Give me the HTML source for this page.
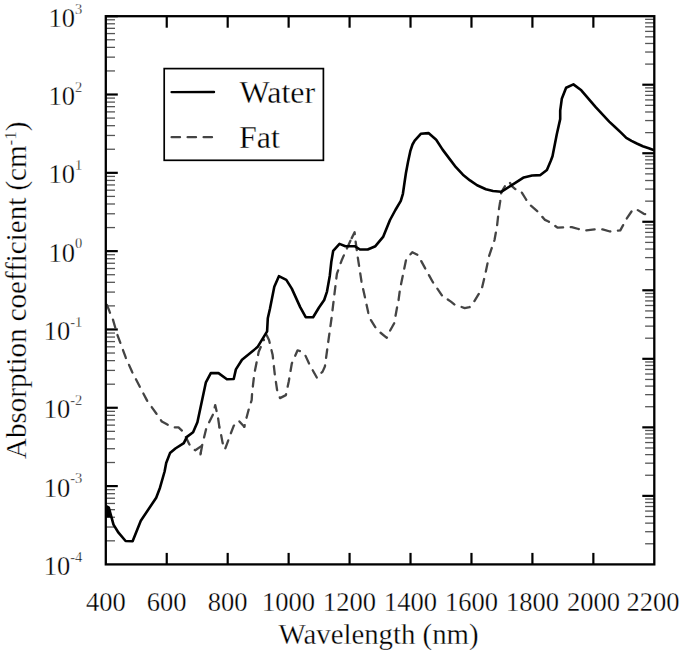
<!DOCTYPE html>
<html><head><meta charset="utf-8"><style>
html,body{margin:0;padding:0;background:#fff;}
svg{display:block;}
text{font-family:"Liberation Serif",serif;fill:#000;font-variant-ligatures:none;stroke:#fff;stroke-width:0.3px;}
.tk{font-size:26.5px;}
.sup{font-size:14.5px;}
.mj{stroke:#000;stroke-width:2.2;}
.mn{stroke:#555;stroke-width:1.3;}
</style></head><body>
<svg width="680" height="650" viewBox="0 0 680 650">
<rect x="0" y="0" width="680" height="650" fill="#fff"/>
<line x1="105.8" y1="16.20" x2="117.8" y2="16.20" class="mj"/><line x1="105.8" y1="70.94" x2="115.0" y2="70.94" class="mn"/><line x1="105.8" y1="57.15" x2="115.0" y2="57.15" class="mn"/><line x1="105.8" y1="47.36" x2="115.0" y2="47.36" class="mn"/><line x1="105.8" y1="39.77" x2="115.0" y2="39.77" class="mn"/><line x1="105.8" y1="33.57" x2="115.0" y2="33.57" class="mn"/><line x1="105.8" y1="28.33" x2="115.0" y2="28.33" class="mn"/><line x1="105.8" y1="23.79" x2="115.0" y2="23.79" class="mn"/><line x1="105.8" y1="19.78" x2="115.0" y2="19.78" class="mn"/><line x1="105.8" y1="94.51" x2="117.8" y2="94.51" class="mj"/><line x1="105.8" y1="149.25" x2="115.0" y2="149.25" class="mn"/><line x1="105.8" y1="135.46" x2="115.0" y2="135.46" class="mn"/><line x1="105.8" y1="125.68" x2="115.0" y2="125.68" class="mn"/><line x1="105.8" y1="118.09" x2="115.0" y2="118.09" class="mn"/><line x1="105.8" y1="111.89" x2="115.0" y2="111.89" class="mn"/><line x1="105.8" y1="106.65" x2="115.0" y2="106.65" class="mn"/><line x1="105.8" y1="102.10" x2="115.0" y2="102.10" class="mn"/><line x1="105.8" y1="98.10" x2="115.0" y2="98.10" class="mn"/><line x1="105.8" y1="172.83" x2="117.8" y2="172.83" class="mj"/><line x1="105.8" y1="227.57" x2="115.0" y2="227.57" class="mn"/><line x1="105.8" y1="213.78" x2="115.0" y2="213.78" class="mn"/><line x1="105.8" y1="203.99" x2="115.0" y2="203.99" class="mn"/><line x1="105.8" y1="196.40" x2="115.0" y2="196.40" class="mn"/><line x1="105.8" y1="190.20" x2="115.0" y2="190.20" class="mn"/><line x1="105.8" y1="184.96" x2="115.0" y2="184.96" class="mn"/><line x1="105.8" y1="180.42" x2="115.0" y2="180.42" class="mn"/><line x1="105.8" y1="176.41" x2="115.0" y2="176.41" class="mn"/><line x1="105.8" y1="251.14" x2="117.8" y2="251.14" class="mj"/><line x1="105.8" y1="305.88" x2="115.0" y2="305.88" class="mn"/><line x1="105.8" y1="292.09" x2="115.0" y2="292.09" class="mn"/><line x1="105.8" y1="282.31" x2="115.0" y2="282.31" class="mn"/><line x1="105.8" y1="274.72" x2="115.0" y2="274.72" class="mn"/><line x1="105.8" y1="268.52" x2="115.0" y2="268.52" class="mn"/><line x1="105.8" y1="263.27" x2="115.0" y2="263.27" class="mn"/><line x1="105.8" y1="258.73" x2="115.0" y2="258.73" class="mn"/><line x1="105.8" y1="254.73" x2="115.0" y2="254.73" class="mn"/><line x1="105.8" y1="329.46" x2="117.8" y2="329.46" class="mj"/><line x1="105.8" y1="384.20" x2="115.0" y2="384.20" class="mn"/><line x1="105.8" y1="370.41" x2="115.0" y2="370.41" class="mn"/><line x1="105.8" y1="360.62" x2="115.0" y2="360.62" class="mn"/><line x1="105.8" y1="353.03" x2="115.0" y2="353.03" class="mn"/><line x1="105.8" y1="346.83" x2="115.0" y2="346.83" class="mn"/><line x1="105.8" y1="341.59" x2="115.0" y2="341.59" class="mn"/><line x1="105.8" y1="337.05" x2="115.0" y2="337.05" class="mn"/><line x1="105.8" y1="333.04" x2="115.0" y2="333.04" class="mn"/><line x1="105.8" y1="407.77" x2="117.8" y2="407.77" class="mj"/><line x1="105.8" y1="462.51" x2="115.0" y2="462.51" class="mn"/><line x1="105.8" y1="448.72" x2="115.0" y2="448.72" class="mn"/><line x1="105.8" y1="438.94" x2="115.0" y2="438.94" class="mn"/><line x1="105.8" y1="431.35" x2="115.0" y2="431.35" class="mn"/><line x1="105.8" y1="425.15" x2="115.0" y2="425.15" class="mn"/><line x1="105.8" y1="419.90" x2="115.0" y2="419.90" class="mn"/><line x1="105.8" y1="415.36" x2="115.0" y2="415.36" class="mn"/><line x1="105.8" y1="411.35" x2="115.0" y2="411.35" class="mn"/><line x1="105.8" y1="486.09" x2="117.8" y2="486.09" class="mj"/><line x1="105.8" y1="540.83" x2="115.0" y2="540.83" class="mn"/><line x1="105.8" y1="527.03" x2="115.0" y2="527.03" class="mn"/><line x1="105.8" y1="517.25" x2="115.0" y2="517.25" class="mn"/><line x1="105.8" y1="509.66" x2="115.0" y2="509.66" class="mn"/><line x1="105.8" y1="503.46" x2="115.0" y2="503.46" class="mn"/><line x1="105.8" y1="498.22" x2="115.0" y2="498.22" class="mn"/><line x1="105.8" y1="493.68" x2="115.0" y2="493.68" class="mn"/><line x1="105.8" y1="489.67" x2="115.0" y2="489.67" class="mn"/><line x1="645.0999999999999" y1="64.10" x2="654.3" y2="64.10" class="mn"/><line x1="645.0999999999999" y1="52.03" x2="654.3" y2="52.03" class="mn"/><line x1="645.0999999999999" y1="43.47" x2="654.3" y2="43.47" class="mn"/><line x1="645.0999999999999" y1="36.83" x2="654.3" y2="36.83" class="mn"/><line x1="645.0999999999999" y1="31.40" x2="654.3" y2="31.40" class="mn"/><line x1="645.0999999999999" y1="26.81" x2="654.3" y2="26.81" class="mn"/><line x1="645.0999999999999" y1="22.84" x2="654.3" y2="22.84" class="mn"/><line x1="645.0999999999999" y1="19.34" x2="654.3" y2="19.34" class="mn"/><line x1="642.3" y1="84.72" x2="654.3" y2="84.72" class="mj"/><line x1="645.0999999999999" y1="132.62" x2="654.3" y2="132.62" class="mn"/><line x1="645.0999999999999" y1="120.56" x2="654.3" y2="120.56" class="mn"/><line x1="645.0999999999999" y1="111.99" x2="654.3" y2="111.99" class="mn"/><line x1="645.0999999999999" y1="105.35" x2="654.3" y2="105.35" class="mn"/><line x1="645.0999999999999" y1="99.93" x2="654.3" y2="99.93" class="mn"/><line x1="645.0999999999999" y1="95.34" x2="654.3" y2="95.34" class="mn"/><line x1="645.0999999999999" y1="91.37" x2="654.3" y2="91.37" class="mn"/><line x1="645.0999999999999" y1="87.86" x2="654.3" y2="87.86" class="mn"/><line x1="642.3" y1="153.25" x2="654.3" y2="153.25" class="mj"/><line x1="645.0999999999999" y1="201.15" x2="654.3" y2="201.15" class="mn"/><line x1="645.0999999999999" y1="189.08" x2="654.3" y2="189.08" class="mn"/><line x1="645.0999999999999" y1="180.52" x2="654.3" y2="180.52" class="mn"/><line x1="645.0999999999999" y1="173.88" x2="654.3" y2="173.88" class="mn"/><line x1="645.0999999999999" y1="168.45" x2="654.3" y2="168.45" class="mn"/><line x1="645.0999999999999" y1="163.86" x2="654.3" y2="163.86" class="mn"/><line x1="645.0999999999999" y1="159.89" x2="654.3" y2="159.89" class="mn"/><line x1="645.0999999999999" y1="156.39" x2="654.3" y2="156.39" class="mn"/><line x1="642.3" y1="221.77" x2="654.3" y2="221.77" class="mj"/><line x1="645.0999999999999" y1="269.67" x2="654.3" y2="269.67" class="mn"/><line x1="645.0999999999999" y1="257.61" x2="654.3" y2="257.61" class="mn"/><line x1="645.0999999999999" y1="249.04" x2="654.3" y2="249.04" class="mn"/><line x1="645.0999999999999" y1="242.40" x2="654.3" y2="242.40" class="mn"/><line x1="645.0999999999999" y1="236.98" x2="654.3" y2="236.98" class="mn"/><line x1="645.0999999999999" y1="232.39" x2="654.3" y2="232.39" class="mn"/><line x1="645.0999999999999" y1="228.42" x2="654.3" y2="228.42" class="mn"/><line x1="645.0999999999999" y1="224.91" x2="654.3" y2="224.91" class="mn"/><line x1="642.3" y1="290.30" x2="654.3" y2="290.30" class="mj"/><line x1="645.0999999999999" y1="338.20" x2="654.3" y2="338.20" class="mn"/><line x1="645.0999999999999" y1="326.13" x2="654.3" y2="326.13" class="mn"/><line x1="645.0999999999999" y1="317.57" x2="654.3" y2="317.57" class="mn"/><line x1="645.0999999999999" y1="310.93" x2="654.3" y2="310.93" class="mn"/><line x1="645.0999999999999" y1="305.50" x2="654.3" y2="305.50" class="mn"/><line x1="645.0999999999999" y1="300.91" x2="654.3" y2="300.91" class="mn"/><line x1="645.0999999999999" y1="296.94" x2="654.3" y2="296.94" class="mn"/><line x1="645.0999999999999" y1="293.44" x2="654.3" y2="293.44" class="mn"/><line x1="642.3" y1="358.82" x2="654.3" y2="358.82" class="mj"/><line x1="645.0999999999999" y1="406.72" x2="654.3" y2="406.72" class="mn"/><line x1="645.0999999999999" y1="394.66" x2="654.3" y2="394.66" class="mn"/><line x1="645.0999999999999" y1="386.09" x2="654.3" y2="386.09" class="mn"/><line x1="645.0999999999999" y1="379.45" x2="654.3" y2="379.45" class="mn"/><line x1="645.0999999999999" y1="374.03" x2="654.3" y2="374.03" class="mn"/><line x1="645.0999999999999" y1="369.44" x2="654.3" y2="369.44" class="mn"/><line x1="645.0999999999999" y1="365.47" x2="654.3" y2="365.47" class="mn"/><line x1="645.0999999999999" y1="361.96" x2="654.3" y2="361.96" class="mn"/><line x1="642.3" y1="427.35" x2="654.3" y2="427.35" class="mj"/><line x1="645.0999999999999" y1="475.25" x2="654.3" y2="475.25" class="mn"/><line x1="645.0999999999999" y1="463.18" x2="654.3" y2="463.18" class="mn"/><line x1="645.0999999999999" y1="454.62" x2="654.3" y2="454.62" class="mn"/><line x1="645.0999999999999" y1="447.98" x2="654.3" y2="447.98" class="mn"/><line x1="645.0999999999999" y1="442.55" x2="654.3" y2="442.55" class="mn"/><line x1="645.0999999999999" y1="437.96" x2="654.3" y2="437.96" class="mn"/><line x1="645.0999999999999" y1="433.99" x2="654.3" y2="433.99" class="mn"/><line x1="645.0999999999999" y1="430.49" x2="654.3" y2="430.49" class="mn"/><line x1="642.3" y1="495.87" x2="654.3" y2="495.87" class="mj"/><line x1="645.0999999999999" y1="543.77" x2="654.3" y2="543.77" class="mn"/><line x1="645.0999999999999" y1="531.71" x2="654.3" y2="531.71" class="mn"/><line x1="645.0999999999999" y1="523.14" x2="654.3" y2="523.14" class="mn"/><line x1="645.0999999999999" y1="516.50" x2="654.3" y2="516.50" class="mn"/><line x1="645.0999999999999" y1="511.08" x2="654.3" y2="511.08" class="mn"/><line x1="645.0999999999999" y1="506.49" x2="654.3" y2="506.49" class="mn"/><line x1="645.0999999999999" y1="502.52" x2="654.3" y2="502.52" class="mn"/><line x1="645.0999999999999" y1="499.01" x2="654.3" y2="499.01" class="mn"/><line x1="166.74" y1="564.4" x2="166.74" y2="552.9" class="mj"/><line x1="166.74" y1="16.2" x2="166.74" y2="27.7" class="mj"/><line x1="227.69" y1="564.4" x2="227.69" y2="552.9" class="mj"/><line x1="227.69" y1="16.2" x2="227.69" y2="27.7" class="mj"/><line x1="288.63" y1="564.4" x2="288.63" y2="552.9" class="mj"/><line x1="288.63" y1="16.2" x2="288.63" y2="27.7" class="mj"/><line x1="349.58" y1="564.4" x2="349.58" y2="552.9" class="mj"/><line x1="349.58" y1="16.2" x2="349.58" y2="27.7" class="mj"/><line x1="410.52" y1="564.4" x2="410.52" y2="552.9" class="mj"/><line x1="410.52" y1="16.2" x2="410.52" y2="27.7" class="mj"/><line x1="471.47" y1="564.4" x2="471.47" y2="552.9" class="mj"/><line x1="471.47" y1="16.2" x2="471.47" y2="27.7" class="mj"/><line x1="532.41" y1="564.4" x2="532.41" y2="552.9" class="mj"/><line x1="532.41" y1="16.2" x2="532.41" y2="27.7" class="mj"/><line x1="593.36" y1="564.4" x2="593.36" y2="552.9" class="mj"/><line x1="593.36" y1="16.2" x2="593.36" y2="27.7" class="mj"/>
<path d="M106.2,302.9 L109.8,312.2 L112.9,319.5 L117.2,334.3 L125.8,357.7 L132.3,372.3 L139.7,386.5 L147.1,400.6 L156.3,413.5 L161.8,421.5 L167.4,424.6 L173.5,427.4 L178.5,427.4 L182.2,430.8 L185.5,436.5 L189.3,444.3 L193.5,449.4 L195.3,450.3 L202.1,445.6 L200.5,454.4" fill="none" stroke="#444" stroke-width="2.3" stroke-linecap="round" stroke-linejoin="round" stroke-dasharray="8.4 7.6" stroke-dashoffset="13.90"/><path d="M200.5,454.4 L202.1,445.6 L203.7,438.8 L206.0,429.5 L208.3,424.0 L212.9,414.8 L215.2,405.1 L216.6,411.1 L218.0,417.5 L219.4,427.2" fill="none" stroke="#444" stroke-width="2.3" stroke-linecap="round" stroke-linejoin="round" stroke-dasharray="8.4 7.6" stroke-dashoffset="14.65"/><path d="M219.4,427.2 L220.8,433.2 L222.6,442.9 L224.9,449.4 L228.2,440.6 L230.5,434.2 L233.7,425.9 L238.8,420.8 L244.3,426.8" fill="none" stroke="#444" stroke-width="2.3" stroke-linecap="round" stroke-linejoin="round" stroke-dasharray="8.4 7.6" stroke-dashoffset="7.89"/><path d="M244.3,426.8 L246.2,418.9 L248.5,410.2 L251.7,400.0 L252.1,392.9 L254.3,373.8 L258.7,351.8 L263.8,340.0" fill="none" stroke="#444" stroke-width="2.3" stroke-linecap="round" stroke-linejoin="round" stroke-dasharray="8.4 7.6" stroke-dashoffset="6.65"/><path d="M263.8,340.0 L266.0,333.8 L269.0,340.0 L272.6,354.7 L274.9,375.3 L277.1,390.0 L280.0,398.1 L285.9,395.1 L288.8,381.2 L291.8,363.5 L297.6,350.3 L299.9,351.0 L305.0,354.7 L309.4,364.3 L316.8,377.5" fill="none" stroke="#444" stroke-width="2.3" stroke-linecap="round" stroke-linejoin="round" stroke-dasharray="8.4 7.6" stroke-dashoffset="8.00"/><path d="M316.8,377.5 L322.6,371.6 L324.9,366.5 L328.5,340.0 L331.5,318.5 L335.4,286.2 L336.9,273.8 L341.5,260.8 L346.2,250.0 L350.8,240.0" fill="none" stroke="#444" stroke-width="2.3" stroke-linecap="round" stroke-linejoin="round" stroke-dasharray="8.4 7.6" stroke-dashoffset="9.38"/><path d="M350.8,240.0 L354.6,232.3 L355.4,240.0 L357.7,256.9 L361.5,281.5 L366.2,303.1 L368.3,312.8 L370.2,318.9 L375.1,326.9 L379.4,331.8 L386.8,337.8 L389.8,331.2 L394.2,323.2 L395.4,316.5 L397.2,306.6 L398.5,300.5 L400.0,289.2 L406.2,259.2 L412.3,252.3 L418.5,255.4 L421.1,260.8 L425.2,268.4 L432.9,282.2 L441.9,295.4" fill="none" stroke="#444" stroke-width="2.3" stroke-linecap="round" stroke-linejoin="round" stroke-dasharray="8.4 7.6" stroke-dashoffset="13.90"/><path d="M441.9,295.4 L450.9,301.6 L454.3,304.4 L464.7,308.1 L469.6,307.2 L473.7,302.3 L479.2,293.3 L482.0,287.8 L485.5,273.2 L488.9,256.6 L494.5,240.0 L497.0,226.3 L498.8,210.2 L500.2,201.4 L501.2,192.6" fill="none" stroke="#444" stroke-width="2.3" stroke-linecap="round" stroke-linejoin="round" stroke-dasharray="8.4 7.6" stroke-dashoffset="8.89"/><path d="M501.2,192.6 L503.5,188.5 L506.7,183.4 L509.5,182.0 L511.8,186.2 L515.0,188.9 L521.0,191.2 L526.1,199.5 L530.2,205.1 L537.2,211.1 L545.0,219.9 L548.5,221.5 L557.7,227.7 L571.8,227.1 L578.4,229.0 L585.7,230.4 L594.6,229.4 L602.6,229.4 L610.0,231.5 L620.3,230.4 L626.2,219.4 L632.1,210.6 L635.7,208.8 L643.8,213.8 L652.6,215.3" fill="none" stroke="#444" stroke-width="2.3" stroke-linecap="round" stroke-linejoin="round" stroke-dasharray="8.4 7.6" stroke-dashoffset="1.12"/>
<polygon points="106,505.5 109.5,507.5 112,517.5 106,517.5" fill="#000"/><path d="M106.2,506.2 L108.8,507.7 L111.5,517.3 L113.5,524.6 L118.5,532.7 L125.6,541.0 L132.6,541.3 L140.8,520.8 L156.2,497.7 L160.0,487.7 L164.6,471.5 L166.2,463.0 L170.0,453.1 L175.4,448.5 L183.8,443.1 L186.9,436.9 L193.1,432.3 L197.4,422.3 L205.9,382.3 L210.8,373.1 L218.5,373.1 L226.9,379.2 L233.7,379.0 L235.9,369.4 L242.0,359.7 L257.5,347.1 L267.1,331.4 L267.8,318.3 L269.9,309.0 L274.3,286.8 L278.9,276.2 L286.3,279.9 L291.8,288.6 L300.2,307.1 L305.7,317.2 L313.1,317.2 L319.0,307.5 L324.2,300.0 L327.0,291.6 L329.8,275.7 L331.3,262.0 L333.2,250.8 L339.5,243.9 L345.4,246.2 L354.6,246.2 L360.0,249.5 L367.7,249.5 L375.4,246.2 L383.1,236.9 L390.0,220.0 L395.4,210.0 L400.8,200.8 L402.9,193.8 L404.6,182.0 L405.9,173.2 L408.0,162.0 L410.3,151.2 L412.5,144.5 L414.7,140.6 L420.8,133.8 L428.5,133.1 L436.2,139.7 L442.6,149.6 L448.8,157.9 L455.9,167.2 L462.9,174.7 L470.0,180.4 L477.1,185.3 L485.9,189.3 L493.0,191.0 L501.2,191.8 L511.8,185.2 L523.8,177.4 L532.1,175.5 L540.4,175.1 L546.9,170.0 L550.8,160.8 L552.5,156.3 L556.8,134.3 L560.2,119.1 L560.2,110.6 L561.8,98.8 L566.1,87.8 L573.4,84.4 L581.3,90.3 L595.7,107.2 L609.2,121.6 L615.0,127.0 L621.0,132.6 L626.3,137.9 L631.5,140.9 L636.8,143.5 L642.8,146.2 L648.8,148.2 L654.1,150.2" fill="none" stroke="#000" stroke-width="2.6" stroke-linejoin="round"/>
<rect x="105.8" y="16.2" width="548.50" height="548.20" fill="none" stroke="#000" stroke-width="2.3"/>
<rect x="164.2" y="68.6" width="159.2" height="91.7" fill="#fff" stroke="#000" stroke-width="1.7"/>
<line x1="171.6" y1="92.1" x2="214" y2="92" stroke="#000" stroke-width="2.4" stroke-linecap="round"/>
<line x1="171.6" y1="137.2" x2="212" y2="137.2" stroke="#444" stroke-width="2.3" stroke-linecap="round" stroke-dasharray="8.4 7.6"/>
<text x="239.6" y="102.6" style="font-size:32px">Water</text>
<text x="239" y="148" style="font-size:32px">Fat</text>
<text x="82.3" y="26.6" text-anchor="end" class="tk">10<tspan dy="-13.1" class="sup">3</tspan></text><text x="82.3" y="104.9" text-anchor="end" class="tk">10<tspan dy="-13.1" class="sup">2</tspan></text><text x="82.3" y="183.2" text-anchor="end" class="tk">10<tspan dy="-13.1" class="sup">1</tspan></text><text x="82.3" y="261.5" text-anchor="end" class="tk">10<tspan dy="-13.1" class="sup">0</tspan></text><text x="82.3" y="339.9" text-anchor="end" class="tk">10<tspan dy="-13.1" class="sup">-1</tspan></text><text x="82.3" y="418.2" text-anchor="end" class="tk">10<tspan dy="-13.1" class="sup">-2</tspan></text><text x="82.3" y="496.5" text-anchor="end" class="tk">10<tspan dy="-13.1" class="sup">-3</tspan></text><text x="82.3" y="574.8" text-anchor="end" class="tk">10<tspan dy="-13.1" class="sup">-4</tspan></text><text x="105.8" y="611" text-anchor="middle" class="tk">400</text><text x="166.7" y="611" text-anchor="middle" class="tk">600</text><text x="227.7" y="611" text-anchor="middle" class="tk">800</text><text x="288.6" y="611" text-anchor="middle" class="tk">1000</text><text x="349.6" y="611" text-anchor="middle" class="tk">1200</text><text x="410.5" y="611" text-anchor="middle" class="tk">1400</text><text x="471.5" y="611" text-anchor="middle" class="tk">1600</text><text x="532.4" y="611" text-anchor="middle" class="tk">1800</text><text x="593.4" y="611" text-anchor="middle" class="tk">2000</text><text x="653.1" y="611" text-anchor="middle" class="tk">2200</text>
<text x="278.6" y="644" style="font-size:28.8px">Wavelength (nm)</text>
<g transform="translate(25.6,459) rotate(-90)"><text x="0" y="0" style="font-size:29px">Absorption coefficient (cm<tspan dy="-9.3" style="font-size:17px">-1</tspan><tspan dy="9.3">)</tspan></text></g>
</svg>
</body></html>
